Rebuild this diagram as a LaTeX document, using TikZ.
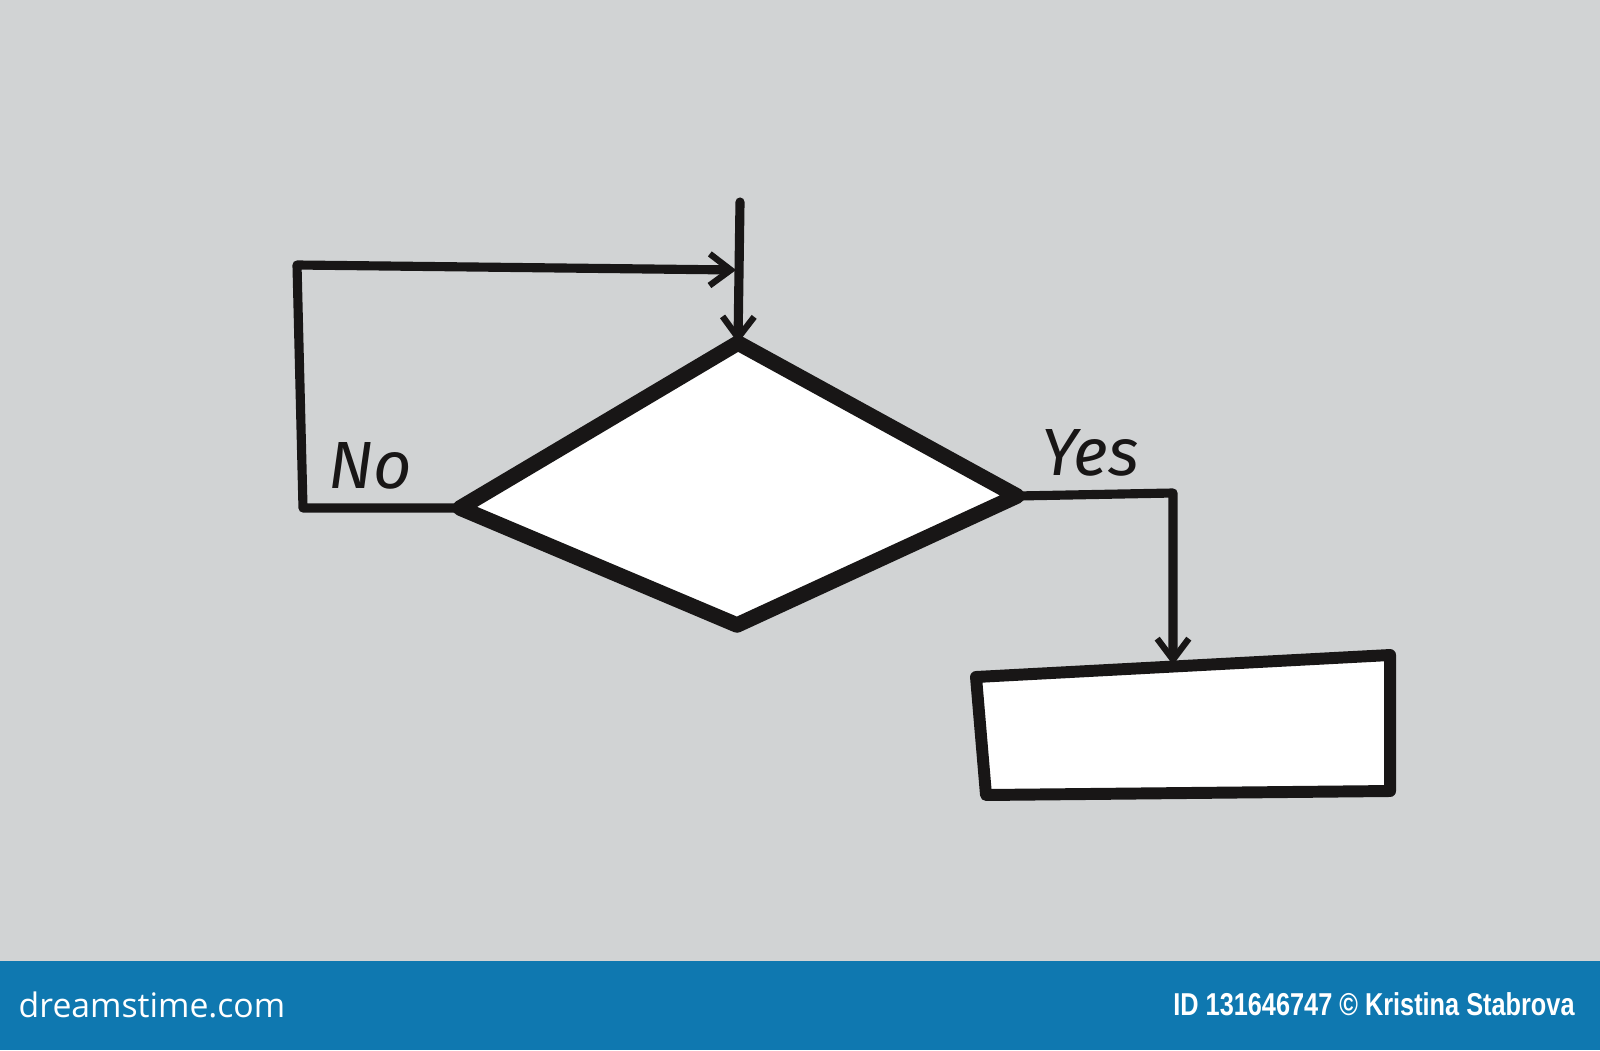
\documentclass[tikz,border=0pt]{standalone}
\usepackage{fontspec}
\usepackage{xcolor}
\usetikzlibrary{arrows.meta}
\newfontfamily\handfont{Fira Sans}
\newfontfamily\sitefont{Open Sans}
\newfontfamily\barfont[FakeStretch=0.8]{Liberation Sans}
\definecolor{paper}{RGB}{209,211,212}
\definecolor{barblue}{RGB}{15,120,176}
\definecolor{ink}{RGB}{24,22,22}
\tikzset{
  flow/.style={draw=ink, line width=2.6pt, line cap=round, line join=round},
  flowarrow/.style={flow, -{Straight Barb[length=6pt,width=9pt,line width=1.8pt]}},
  shapeline/.style={draw=ink, fill=white, line join=round},
  answer/.style={font=\handfont\itshape\fontsize{19}{22}\selectfont, text=ink}
}
\begin{document}
\begin{tikzpicture}
      % background and bottom bar
      \fill[paper] (0,0) rectangle (16,10.5);
      \useasboundingbox (0,0) rectangle (16,10.5);
      \fill[barblue] (0,0) rectangle (16,0.89);
      \node[text=white, font=\sitefont\fontsize{9.6}{11}\selectfont] (site) at (1.52,0.45) {dreamstime.com};
      \node[text=white, font=\barfont\bfseries\fontsize{9}{11}\selectfont] (credit) at (13.74,0.46) {ID 131646747 \textcopyright{} Kristina Stabrova};

      % decision corners
      \coordinate (decT) at (7.38,7.07);
      \coordinate (decR) at (10.17,5.54);
      \coordinate (decB) at (7.37,4.25);
      \coordinate (decL) at (4.60,5.42);

      % process corners
      \coordinate (procTL) at (9.76,3.73);
      \coordinate (procTR) at (13.90,3.95);
      \coordinate (procBR) at (13.90,2.59);
      \coordinate (procBL) at (9.86,2.55);

      % connector points
      \coordinate (entry) at (7.40,8.48);
      \coordinate (loopBL) at (3.03,5.42);
      \coordinate (loopTL) at (2.97,7.85);
      \coordinate (join) at (7.36,7.80);
      \coordinate (yesTR) at (11.73,5.57);
      \coordinate (procIn) at (11.73,3.85);

      \draw[shapeline, line width=4.4pt] (decT) -- (decR) -- (decB) -- (decL) -- cycle;
      \draw[shapeline, line width=3.4pt] (procTL) -- (procTR) -- (procBR) -- (procBL) -- cycle;

      \draw[flowarrow] (entry) -- (decT);
      \draw[flowarrow] (decL) -- (loopBL) -- (loopTL) -- (join);
      \draw[flowarrow] (decR) -- (yesTR) -- (procIn);

      \node[answer] (no) at (3.70,5.84) {No};
      \node[answer] (yes) at (10.90,5.97) {Yes};
    \end{tikzpicture}
\end{document}
